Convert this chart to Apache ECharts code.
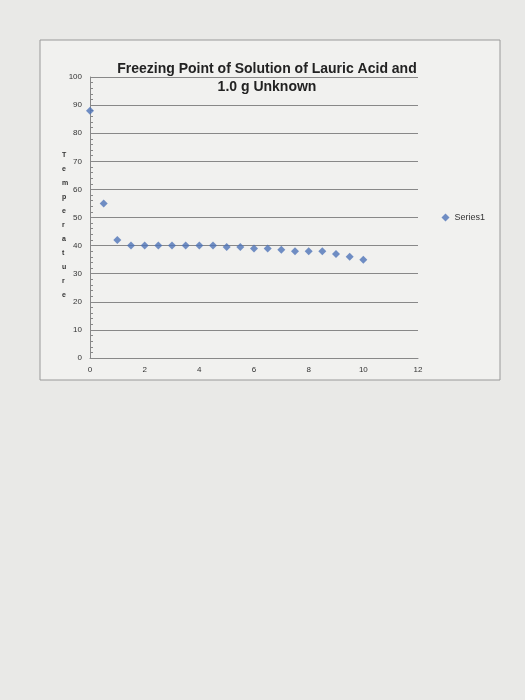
<!DOCTYPE html>
<html>
<head>
<meta charset="utf-8">
<script src="https://cdn.jsdelivr.net/npm/echarts@6/dist/echarts.min.js"></script>
<style>
  body { margin: 0; background: #e9e9e7; }
  #chart { width: 525px; height: 700px; }
</style>
</head>
<body>
<div id="chart"></div>
<script>
// time (min) and temperature readings
var times = [0, 0.5, 1, 1.5, 2, 2.5, 3, 3.5, 4, 4.5, 5, 5.5, 6, 6.5, 7, 7.5, 8, 8.5, 9, 9.5, 10];
var temps = [88, 55, 42, 40, 40, 40, 40, 40, 40, 40, 39.5, 39.5, 39, 39, 38.5, 38, 38, 38, 37, 36, 35];
var titleText = 'Freezing Point of Solution of Lauric Acid and\n1.0 g Unknown';
var yName = 'Temperature';

var points = times.map(function (t, i) { return [t, temps[i]]; });

var myChart = echarts.init(document.getElementById('chart'));
myChart.setOption({
    backgroundColor: '#e9e9e7',
    textStyle: { fontFamily: 'Liberation Sans' },
    graphic: [
        { type: 'rect', shape: { x: 40, y: 40, width: 460, height: 340 },
          style: { fill: '#f1f1ef', stroke: '#999', lineWidth: 1 }, z: -1 },
        { type: 'text', left: 62, top: 148,
          style: { text: yName.split('').join('\n'), font: 'bold 7px Liberation Sans', fill: '#333', lineHeight: 14 } }
    ],
    title: {
        text: titleText,
        left: 262, top: 55, textAlign: 'center',
        textStyle: { fontSize: 14, fontWeight: 'bold', color: '#222', lineHeight: 18 }
    },
    legend: {
        right: 35, top: 208, orient: 'vertical',
        itemWidth: 8, itemHeight: 8,
        textStyle: { fontSize: 9, color: '#333' },
        data: ['Series1']
    },
    grid: { left: 90, right: 107, top: 77, bottom: 342 },
    xAxis: {
        type: 'value', min: 0, max: 12, interval: 2,
        axisLine: { lineStyle: { color: '#888' } },
        axisTick: { show: false },
        axisLabel: { fontSize: 8, color: '#333' },
        splitLine: { show: false }
    },
    yAxis: {
        type: 'value', min: 0, max: 100, interval: 10,
        axisLine: { show: true, lineStyle: { color: '#888' } },
        axisTick: { show: true, inside: true, length: 4 },
        minorTick: { show: true, splitNumber: 5, length: 3 },
        axisLabel: { fontSize: 8, color: '#333' },
        splitLine: { lineStyle: { color: '#888' } }
    },
    series: [{
        name: 'Series1',
        type: 'scatter',
        symbol: 'diamond',
        symbolSize: 8,
        itemStyle: { color: '#4f74b8' },
        data: points
    }]
});
</script>
</body>
</html>
